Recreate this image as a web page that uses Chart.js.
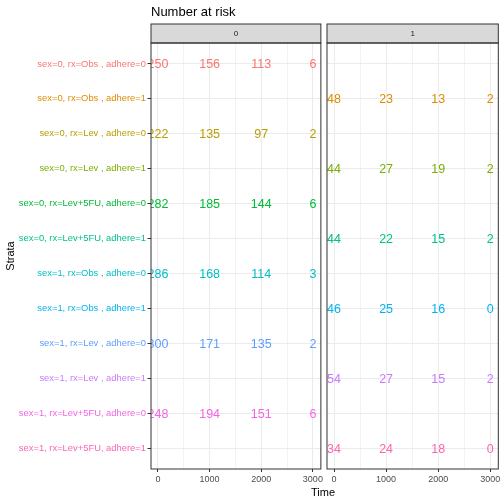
<!DOCTYPE html>
<html><head><meta charset="utf-8">
<script src="https://cdn.jsdelivr.net/npm/chart.js@4.4.1/dist/chart.umd.min.js"></script>
<style>
html,body{margin:0;padding:0;background:#fff;}
#wrap{position:relative;width:504px;height:504px;overflow:hidden;background:#fff;}
canvas{position:absolute;top:0;}
#c0{left:0;}
#c1{left:325px;}
#timeLbl{position:absolute;left:298px;width:50px;top:486px;line-height:13px;text-align:center;font-size:11px;font-family:"Liberation Sans",Arial,sans-serif;color:#000;}
</style></head><body>
<div id="wrap">
<canvas id="c0" width="325" height="504"></canvas>
<canvas id="c1" width="179" height="504"></canvas>
<div id="timeLbl">Time</div>
</div>
<script>
// ---- data ----
const strata = [
  "sex=0, rx=Obs , adhere=0",
  "sex=0, rx=Obs , adhere=1",
  "sex=0, rx=Lev , adhere=0",
  "sex=0, rx=Lev , adhere=1",
  "sex=0, rx=Lev+5FU, adhere=0",
  "sex=0, rx=Lev+5FU, adhere=1",
  "sex=1, rx=Obs , adhere=0",
  "sex=1, rx=Obs , adhere=1",
  "sex=1, rx=Lev , adhere=0",
  "sex=1, rx=Lev , adhere=1",
  "sex=1, rx=Lev+5FU, adhere=0",
  "sex=1, rx=Lev+5FU, adhere=1"
];
const strataColors = ["#F8766D","#DE8C00","#B79F00","#7CAE00","#00BA38","#00C08B",
                      "#00BFC4","#00B4F0","#619CFF","#C77CFF","#F564E3","#FF64B0"];
const times = [0, 1000, 2000, 3000];
const xGridTicks = [0, 500, 1000, 1500, 2000, 2500, 3000];
const panelLabels = ["0", "1"];
const strataPanel = [0,1,0,1,0,1,0,1,0,1,0,1];

const sex0_Obs_adhere0    = [250, 156, 113, 6];
const sex0_Obs_adhere1    = [48, 23, 13, 2];
const sex0_Lev_adhere0    = [222, 135, 97, 2];
const sex0_Lev_adhere1    = [44, 27, 19, 2];
const sex0_Lev5FU_adhere0 = [282, 185, 144, 6];
const sex0_Lev5FU_adhere1 = [44, 22, 15, 2];
const sex1_Obs_adhere0    = [286, 168, 114, 3];
const sex1_Obs_adhere1    = [46, 25, 16, 0];
const sex1_Lev_adhere0    = [300, 171, 135, 2];
const sex1_Lev_adhere1    = [54, 27, 15, 2];
const sex1_Lev5FU_adhere0 = [248, 194, 151, 6];
const sex1_Lev5FU_adhere1 = [34, 24, 18, 0];

const atRisk = [sex0_Obs_adhere0, sex0_Obs_adhere1, sex0_Lev_adhere0, sex0_Lev_adhere1,
                sex0_Lev5FU_adhere0, sex0_Lev5FU_adhere1, sex1_Obs_adhere0, sex1_Obs_adhere1,
                sex1_Lev_adhere0, sex1_Lev_adhere1, sex1_Lev5FU_adhere0, sex1_Lev5FU_adhere1];

// ---- drawing ----
const FAM = '"Liberation Sans", Arial, sans-serif';
Chart.defaults.font.family = FAM;

const panelPlugin = {
  id: 'panelDeco',
  afterDatasetsDraw(chart, args, opts) {
    const ctx = chart.ctx, a = chart.chartArea;
    ctx.save();
    ctx.beginPath();
    ctx.rect(a.left, a.top, a.right - a.left, a.bottom - a.top);
    ctx.clip();
    ctx.font = '12.5px ' + FAM;
    ctx.textAlign = 'center';
    ctx.textBaseline = 'middle';
    chart.data.datasets.forEach((ds, di) => {
      const meta = chart.getDatasetMeta(di);
      ctx.fillStyle = ds.textColor;
      meta.data.forEach((pt, j) => {
        ctx.fillText(String(ds.data[j].n), pt.x, pt.y + 1);
      });
    });
    ctx.restore();
  },
  afterDraw(chart, args, opts) {
    const ctx = chart.ctx, a = chart.chartArea;
    ctx.save();
    const stripTop = 24;
    ctx.fillStyle = '#D9D9D9';
    ctx.fillRect(a.left, stripTop, a.right - a.left, a.top - stripTop);
    ctx.strokeStyle = '#333333';
    ctx.lineWidth = 1;
    ctx.strokeRect(a.left, stripTop, a.right - a.left, a.top - stripTop);
    ctx.strokeRect(a.left, a.top, a.right - a.left, a.bottom - a.top);
    ctx.fillStyle = '#1A1A1A';
    ctx.font = '8px ' + FAM;
    ctx.textAlign = 'center';
    ctx.textBaseline = 'middle';
    ctx.fillText(opts.label, (a.left + a.right) / 2, (stripTop + a.top) / 2 + 0.5);
    if (opts.title) {
      ctx.fillStyle = '#000';
      ctx.font = '13px ' + FAM;
      ctx.textAlign = 'left';
      ctx.fillText(opts.title, a.left, 12.5);
    }
    ctx.restore();
  }
};

function makeChart(id, panelIdx, showY, padding, title) {
  const datasets = [];
  strata.forEach((s, i) => {
    if (strataPanel[i] !== panelIdx) return;
    datasets.push({
      label: s,
      data: times.map((t, j) => ({ x: t, y: i + 1, n: atRisk[i][j] })),
      textColor: strataColors[i],
      pointRadius: 0,
      showLine: false
    });
  });
  return new Chart(document.getElementById(id), {
    type: 'scatter',
    data: { datasets },
    plugins: [panelPlugin],
    options: {
      responsive: false,
      animation: false,
      layout: { padding },
      plugins: {
        legend: { display: false },
        tooltip: { enabled: false },
        panelDeco: { label: panelLabels[panelIdx], title }
      },
      scales: {
        x: {
          type: 'linear', min: -135, max: 3155,
          afterBuildTicks: s => { s.ticks = xGridTicks.map(v => ({ value: v })); },
          afterFit: s => { s.height = 35; },
          border: { display: false },
          grid: {
            color: '#EBEBEB',
            lineWidth: c => (c.tick && c.tick.value % 1000 === 0) ? 1 : 0.6,
            tickLength: 3,
            tickWidth: 1,
            tickColor: c => (c.tick && c.tick.value % 1000 === 0) ? '#333333' : 'rgba(0,0,0,0)'
          },
          ticks: {
            autoSkip: false, maxRotation: 0, padding: 2,
            color: '#4D4D4D', font: { size: 9 },
            callback: v => (v % 1000 === 0 ? String(v) : '')
          }
        },
        y: {
          type: 'linear', reverse: true, min: 0.4, max: 12.6,
          afterBuildTicks: s => { s.ticks = strata.map((_, i) => ({ value: i + 1 })); },
          afterFit: s => { s.width = showY ? 151 : 0; },
          border: { display: false },
          grid: {
            color: '#EBEBEB', lineWidth: 1,
            drawTicks: showY, tickLength: 3.5, tickWidth: 1, tickColor: '#333333'
          },
          ticks: {
            display: showY, autoSkip: false, padding: 1.5,
            font: { size: 9.4 },
            color: c => strataColors[(c.tick ? c.tick.value : 1) - 1],
            callback: v => strata[v - 1]
          },
          title: { display: showY, text: 'Strata', color: '#000', font: { size: 11 } }
        }
      }
    }
  });
}

makeChart('c0', 0, true, { top: 43, left: 0, right: 2.5, bottom: 0 }, 'Number at risk');
makeChart('c1', 1, false, { top: 43, left: 2, right: 5.7, bottom: 0 }, null);
</script>
</body></html>
